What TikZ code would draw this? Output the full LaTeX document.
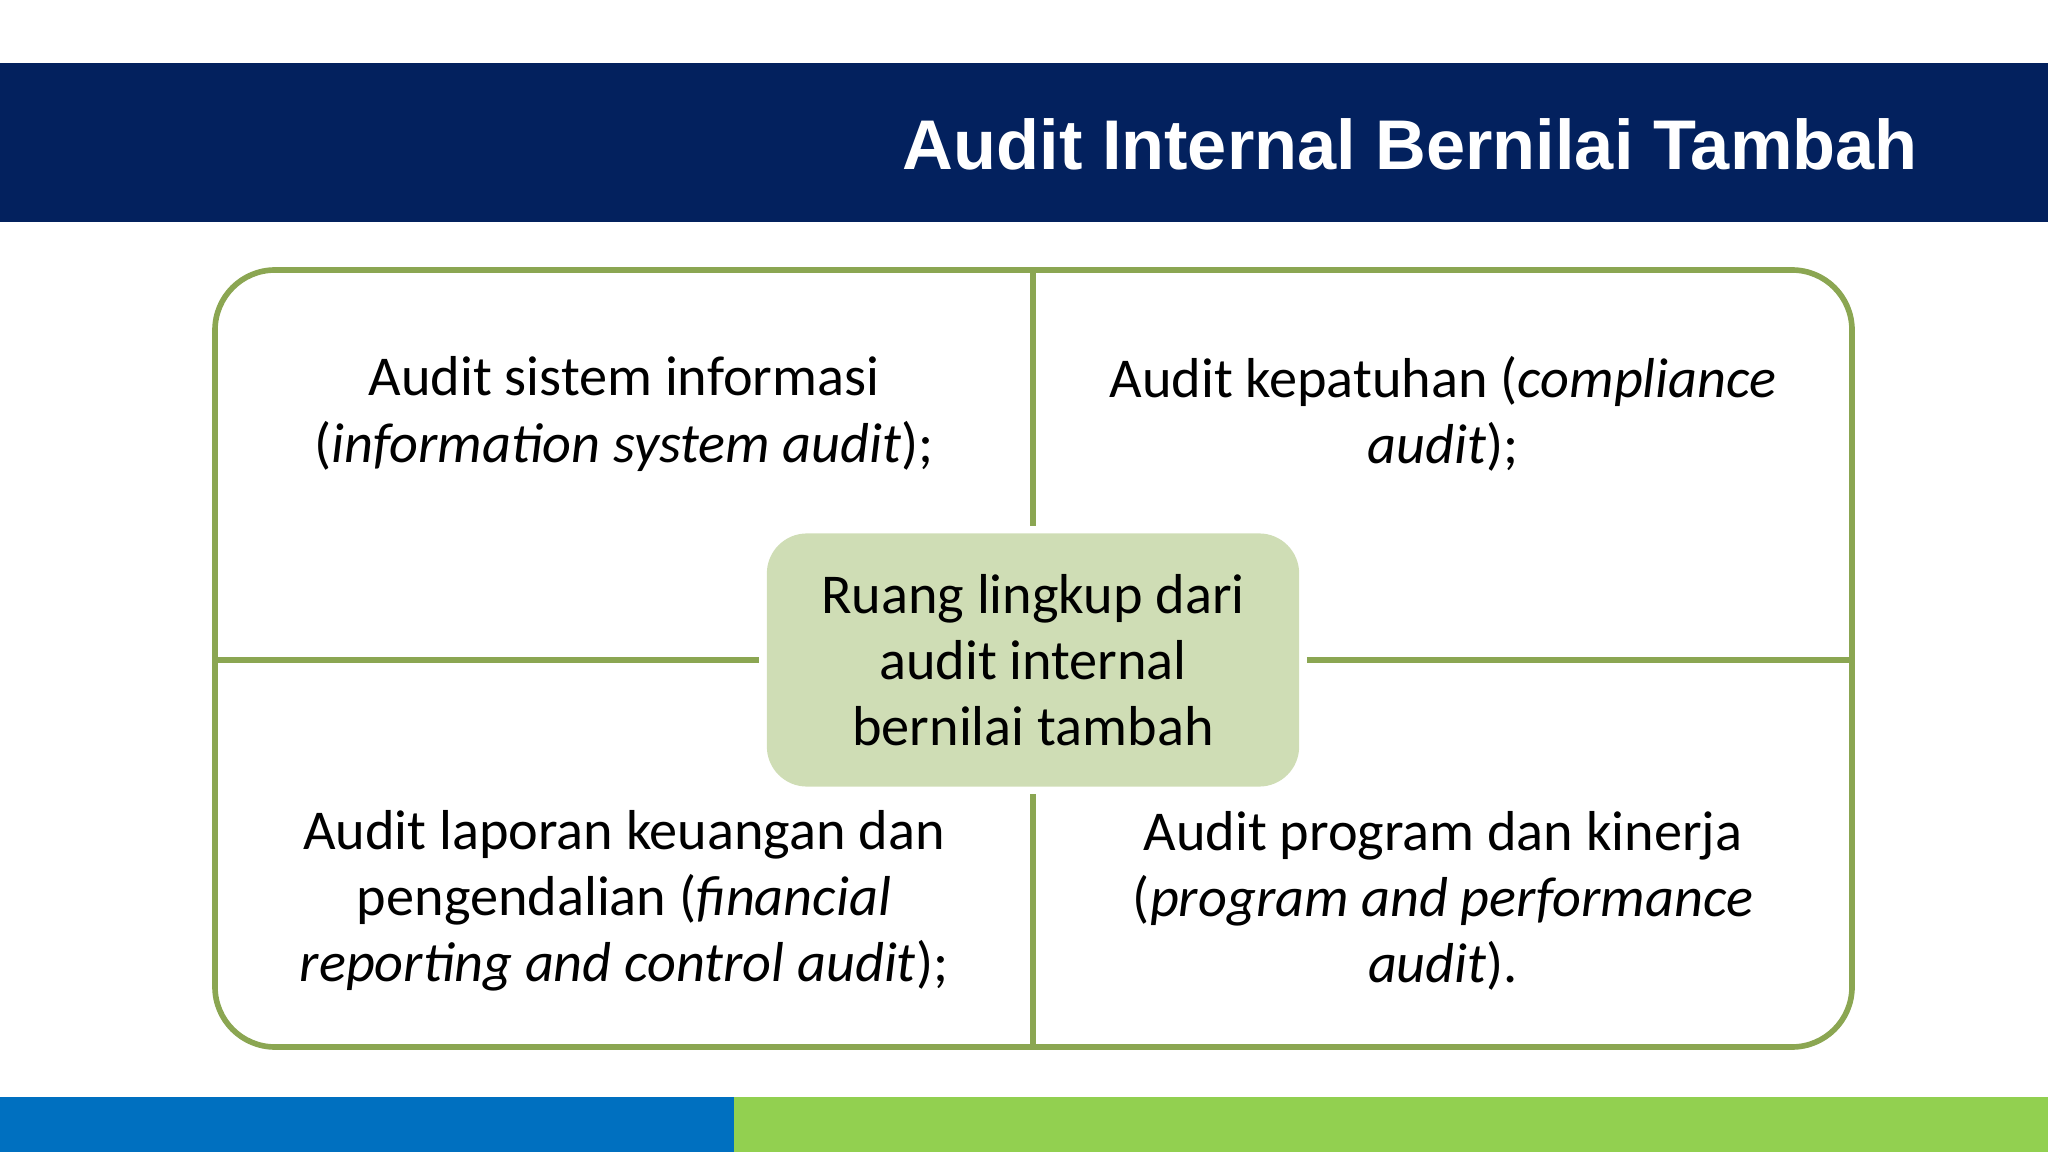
\documentclass[tikz,border=0pt]{standalone}
\usepackage{fontspec}
\setmainfont{Carlito}
\newfontfamily\titlefont{Liberation Sans}
\usetikzlibrary{positioning}
\definecolor{navy}{HTML}{03215E}
\definecolor{olivegreen}{HTML}{8BA652}
\definecolor{palegreen}{HTML}{CFDDB5}
\definecolor{barblue}{HTML}{0070C0}
\definecolor{bargreen}{HTML}{92D050}
\begin{document}
\begin{tikzpicture}[x=0.01cm,y=-0.01cm
	,quad/.style={align=center,font=\fontsize{16}{18.8}\selectfont}
	,frame/.style={draw=olivegreen,line width=1.6pt}]
  \useasboundingbox (0,0) rectangle (2048,1152);
  % bands
  \fill[navy] (0,63) rectangle (2048,222);
  \fill[barblue] (0,1097) rectangle (734,1152);
  \fill[bargreen] (734,1097) rectangle (2048,1152);
  \node[anchor=east,text=white,font=\titlefont\bfseries\fontsize{20}{24}\selectfont] (title) at (1930,144) {Audit Internal Bernilai Tambah};
  % frame and cross
  \draw[frame,rounded corners=0.6cm] (215,270) rectangle (1852,1047);
  \node[fill=palegreen,rounded corners=0.4cm,minimum width=5.32cm,minimum height=2.53cm,quad] (core) at (1033,660)
  	{Ruang lingkup dari\\audit internal\\bernilai tambah};
  \coordinate (top) at (1033,270);
  \coordinate (bot) at (1033,1047);
  \coordinate (lft) at (215,660);
  \coordinate (rgt) at (1852,660);
  \draw[frame] (top) -- ([yshift=0.07cm]core.north);
  \draw[frame] ([yshift=-0.07cm]core.south) -- (bot);
  \draw[frame] (lft) -- ([xshift=-0.07cm]core.west);
  \draw[frame] ([xshift=0.07cm]core.east) -- (rgt);
  % quadrants
  \node[quad] (nw) at (624,414) {Audit sistem informasi\\(\textit{information system audit});};
  \node[quad] (ne) at (1443,414) {Audit kepatuhan (\textit{compliance}\\\textit{audit});};
  \node[quad] (sw) at (624,901) {Audit laporan keuangan dan\\pengendalian (\textit{financial}\\\textit{reporting and control audit});};
  \node[quad] (se) at (1443,901) {Audit program dan kinerja\\(\textit{program and performance}\\\textit{audit}).};
\end{tikzpicture}
\end{document}
